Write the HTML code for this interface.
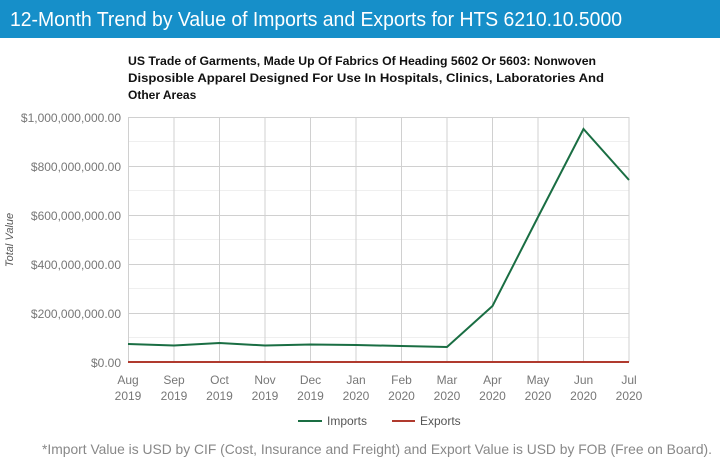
<!DOCTYPE html>
<html><head><style>
body{margin:0;width:720px;height:473px;background:#fff;overflow:hidden;font-family:"Liberation Sans",sans-serif}
.hdr{position:absolute;left:0;top:0;width:720px;height:38px;background:#168fc9}
</style></head><body>
<div class="hdr"></div>
<svg width="720" height="473" style="position:absolute;left:0;top:0" font-family="Liberation Sans, sans-serif">
<text x="10" y="26" font-size="20" fill="#fff" textLength="612" lengthAdjust="spacingAndGlyphs">12-Month Trend by Value of Imports and Exports for HTS 6210.10.5000</text>
<g font-size="12" font-weight="bold" fill="#111">
<text x="128" y="65" textLength="468" lengthAdjust="spacingAndGlyphs">US Trade of Garments, Made Up Of Fabrics Of Heading 5602 Or 5603: Nonwoven</text>
<text x="128" y="82" textLength="476" lengthAdjust="spacingAndGlyphs">Disposible Apparel Designed For Use In Hospitals, Clinics, Laboratories And</text>
<text x="128" y="99">Other Areas</text>
</g>
<g stroke="#efefef"><line x1="128" x2="629" y1="141.5" y2="141.5"/><line x1="128" x2="629" y1="190.5" y2="190.5"/><line x1="128" x2="629" y1="239.5" y2="239.5"/><line x1="128" x2="629" y1="288.5" y2="288.5"/><line x1="128" x2="629" y1="337.5" y2="337.5"/></g>
<g stroke="#d0d0d0">
<line x1="128" x2="629" y1="117.5" y2="117.5"/><line x1="128" x2="629" y1="166.5" y2="166.5"/><line x1="128" x2="629" y1="215.5" y2="215.5"/><line x1="128" x2="629" y1="264.5" y2="264.5"/><line x1="128" x2="629" y1="313.5" y2="313.5"/>
<line x1="128.5" x2="128.5" y1="117" y2="362"/><line x1="174" x2="174" y1="117" y2="362"/><line x1="219.5" x2="219.5" y1="117" y2="362"/><line x1="265" x2="265" y1="117" y2="362"/><line x1="310.5" x2="310.5" y1="117" y2="362"/><line x1="356" x2="356" y1="117" y2="362"/><line x1="401.5" x2="401.5" y1="117" y2="362"/><line x1="447" x2="447" y1="117" y2="362"/><line x1="492.5" x2="492.5" y1="117" y2="362"/><line x1="538" x2="538" y1="117" y2="362"/><line x1="583.5" x2="583.5" y1="117" y2="362"/><line x1="629" x2="629" y1="117" y2="362"/>
</g>
<g font-size="12" fill="#777" text-anchor="end">
<text x="121" y="122">$1,000,000,000.00</text><text x="121" y="171">$800,000,000.00</text><text x="121" y="220">$600,000,000.00</text><text x="121" y="269">$400,000,000.00</text><text x="121" y="318">$200,000,000.00</text><text x="121" y="367">$0.00</text>
</g>
<text transform="translate(13,240) rotate(-90)" font-size="11" font-style="italic" fill="#555" text-anchor="middle">Total Value</text>
<polyline fill="none" stroke="#1a6e43" stroke-width="2" points="128,344 174,345.5 219.5,343 265,345.5 310.5,344.5 356,345 401.5,346 447,347 492.5,306 538,217 583.5,129 629,180"/>
<line x1="128" x2="629" y1="362" y2="362" stroke="#b03a2e" stroke-width="2"/>
<g font-size="12" fill="#777" text-anchor="middle">
<text x="128" y="384">Aug</text><text x="128" y="400">2019</text>
<text x="174" y="384">Sep</text><text x="174" y="400">2019</text>
<text x="219.5" y="384">Oct</text><text x="219.5" y="400">2019</text>
<text x="265" y="384">Nov</text><text x="265" y="400">2019</text>
<text x="310.5" y="384">Dec</text><text x="310.5" y="400">2019</text>
<text x="356" y="384">Jan</text><text x="356" y="400">2020</text>
<text x="401.5" y="384">Feb</text><text x="401.5" y="400">2020</text>
<text x="447" y="384">Mar</text><text x="447" y="400">2020</text>
<text x="492.5" y="384">Apr</text><text x="492.5" y="400">2020</text>
<text x="538" y="384">May</text><text x="538" y="400">2020</text>
<text x="583.5" y="384">Jun</text><text x="583.5" y="400">2020</text>
<text x="629" y="384">Jul</text><text x="629" y="400">2020</text>
</g>
<line x1="298" x2="322" y1="421" y2="421" stroke="#1a6e43" stroke-width="2"/>
<text x="327" y="425" font-size="12" fill="#555">Imports</text>
<line x1="392" x2="415" y1="421" y2="421" stroke="#b03a2e" stroke-width="2"/>
<text x="420" y="425" font-size="12" fill="#555">Exports</text>
<text x="42" y="454" font-size="14" fill="#888" textLength="670" lengthAdjust="spacingAndGlyphs">*Import Value is USD by CIF (Cost, Insurance and Freight) and Export Value is USD by FOB (Free on Board).</text>
</svg>
</body></html>
